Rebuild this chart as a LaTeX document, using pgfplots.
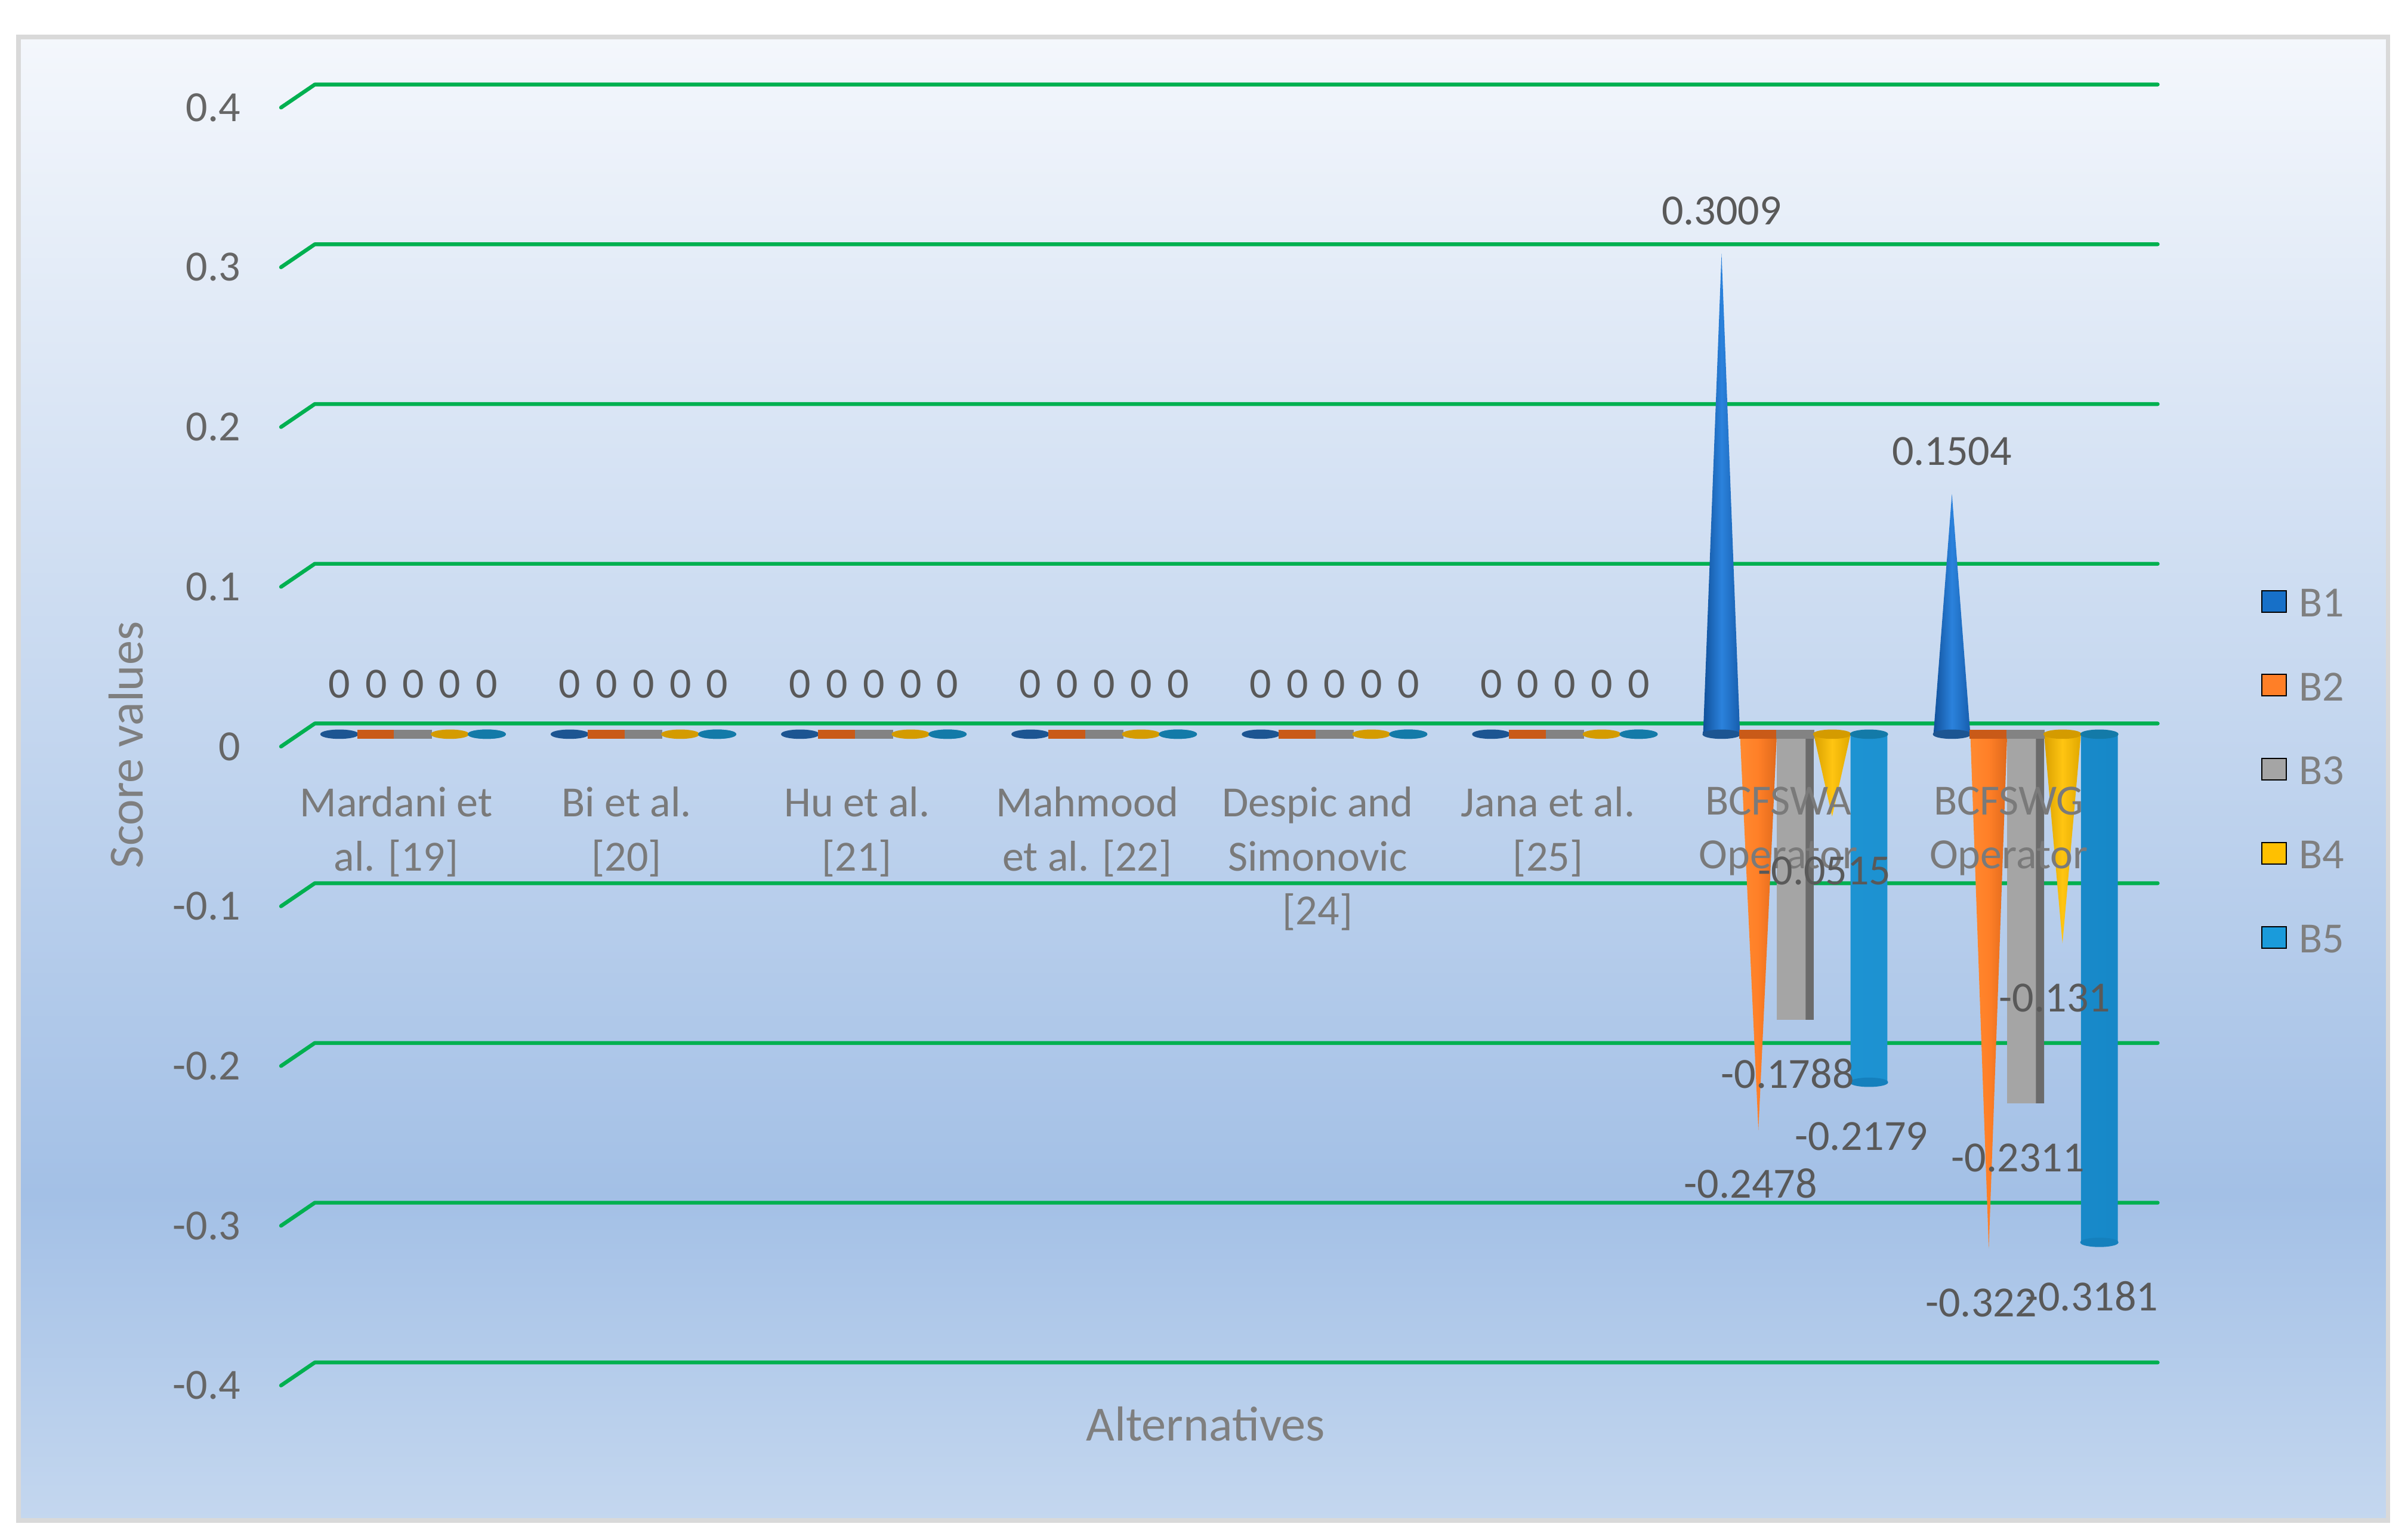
\documentclass[border=0pt]{standalone}
\usepackage{fontspec}
\setmainfont{Carlito}
\usepackage{pgfplots}
\pgfplotsset{compat=1.18}
\usepackage{pgfplotstable}

\definecolor{gridgreen}{HTML}{00B050}
\definecolor{framegray}{HTML}{D9D9D9}
\definecolor{bgtop}{HTML}{F4F7FC}
\definecolor{bgmid}{HTML}{A3C0E6}
\definecolor{bgbot}{HTML}{C4D7EF}
\definecolor{tickgray}{HTML}{666666}
\definecolor{catgray}{HTML}{7A7A7A}
\definecolor{titlegray}{HTML}{7F7F7F}
\definecolor{labgray}{HTML}{595959}
% series
\definecolor{bA}{HTML}{1770C8}
\definecolor{bAl}{HTML}{10509A}
\definecolor{bAm}{HTML}{2B82DC}
\definecolor{bAr}{HTML}{175EAE}
\definecolor{bAz}{HTML}{1C5592}
\definecolor{bB}{HTML}{FF7F27}
\definecolor{bBl}{HTML}{FF8A30}
\definecolor{bBr}{HTML}{E06A1C}
\definecolor{bBz}{HTML}{C95A18}
\definecolor{bC}{HTML}{A5A5A5}
\definecolor{bCs}{HTML}{6B6B6B}
\definecolor{bCz}{HTML}{838383}
\definecolor{bD}{HTML}{FFC000}
\definecolor{bDl}{HTML}{D9A000}
\definecolor{bDm}{HTML}{FFC512}
\definecolor{bDr}{HTML}{E0A800}
\definecolor{bDz}{HTML}{D49B00}
\definecolor{bE}{HTML}{1A9BDB}
\definecolor{bEl}{HTML}{0F74AC}
\definecolor{bEm}{HTML}{2BAAE8}
\definecolor{bEr}{HTML}{1788C8}
\definecolor{bEb}{HTML}{1580BD}
\definecolor{bEz}{HTML}{137AA8}

\pgfdeclareverticalshading{bgshade}{100bp}{color(0bp)=(bgbot); color(25bp)=(bgbot); color(36bp)=(bgmid); color(75bp)=(bgtop); color(100bp)=(bgtop)}

\newcommand{\fs}{\fontsize{14pt}{17.5pt}\selectfont}
\newcommand{\ts}{\fontsize{16pt}{19pt}\selectfont}

\pgfplotstableread{
x y lab
0 0 0
1 0 0
2 0 0
3 0 0
4 0 0
5 0 0
6 0.3009 0.3009
7 0.1504 0.1504
}\Bone
\pgfplotstableread{
x y lab
0 0 0
1 0 0
2 0 0
3 0 0
4 0 0
5 0 0
6 -0.2478 -0.2478
7 -0.322 -0.322
}\Btwo
\pgfplotstableread{
x y lab
0 0 0
1 0 0
2 0 0
3 0 0
4 0 0
5 0 0
6 -0.1788 -0.1788
7 -0.2311 -0.2311
}\Bthree
\pgfplotstableread{
x y lab
0 0 0
1 0 0
2 0 0
3 0 0
4 0 0
5 0 0
6 -0.0515 -0.0515
7 -0.131 -0.131
}\Bfour
\pgfplotstableread{
x y lab
0 0 0
1 0 0
2 0 0
3 0 0
4 0 0
5 0 0
6 -0.2179 -0.2179
7 -0.3181 -0.3181
}\Bfive

\newcommand{\gl}[2]{\draw[gridgreen, line width=1.25pt, line cap=round, line join=round] (axis cs:-0.5733,#1) -- (axis cs:-0.4267,#2) -- (axis cs:7.5733,#2);}

\pgfplotsset{
  lbl/.style={draw=none, mark=none, point meta=explicit symbolic, nodes near coords,
    visualization depends on={rawy \as \rawyval},
    every node near coord/.append style={anchor=south, font=\fs, text=labgray, inner sep=9pt, yshift={-31.5*(\rawyval<0)+2.5*(\rawyval==0)}, xshift={-2.5*(\rawyval<0)}}},
  flat/.style={forget plot, only marks, mark=#1, mark size=6pt, mark options={yscale=0.22}},
}

\begin{document}
\begin{tikzpicture}
\useasboundingbox (0,0) rectangle (784pt,500pt);
\fill[white] (0,0) rectangle (784pt,500pt);
\shade[shading=bgshade] (6pt,5pt) rectangle (777.5pt,488pt);
\draw[framegray, line width=1.5pt] (6pt,5pt) rectangle (777.5pt,488pt);
\begin{axis}[
  at={(89.5pt,42.6pt)}, anchor=south west,
  scale only axis, width=615pt, height=436.8pt,
  xmin=-0.6, xmax=7.6, ymin=-0.42, ymax=0.42,
  clip=false, axis on top,
  axis x line*=middle, axis y line*=left,
  axis line style={draw=none},
  major tick length=0pt,
  xtick={0,1,2,3,4,5,6,7},
  xticklabels={{Mardani et\\al. [19]},{Bi et al.\\{[20]}},{Hu et al.\\{[21]}},{Mahmood\\et al. [22]},{Despic and\\Simonovic\\{[24]}},{Jana et al.\\{[25]}},{BCFSWA\\Operator},{BCFSWG\\Operator}},
  xticklabel style={anchor=north, align=center, inner sep=0pt, yshift=-17pt, xshift=-5.5pt, font=\fs, text=catgray},
  ytick={-0.4,-0.3,-0.2,-0.1,0,0.1,0.2,0.3,0.4},
  yticklabels={-0.4,-0.3,-0.2,-0.1,0,0.1,0.2,0.3,0.4},
  yticklabel style={anchor=east, inner sep=0pt, xshift=-11pt, yshift=-4pt, font=\fs, text=tickgray},
  xlabel={Alternatives}, ylabel={Score values},
  every axis x label/.style={at={(axis description cs:0.4927,-0.014)}, anchor=center, font=\ts, text=titlegray},
  every axis y label/.style={at={(axis description cs:-0.0789,0.492)}, rotate=90, anchor=center, font=\ts, text=titlegray},
  legend style={at={(axis description cs:1.0512,0.611)}, anchor=north west, draw=none, fill=none, inner sep=0pt, row sep=17.35pt, column sep=4pt, font=\fs, text=titlegray, nodes={inner sep=0pt, text height=10pt, text depth=0pt}},
  legend cell align=left,
  legend image code/.code={\fill[#1] (0pt,-3.5pt) rectangle (8pt,3.5pt);},
]
% grid lines (back wall with floor edge)
\gl{0.3923}{0.4067}
\gl{0.2923}{0.3067}
\gl{0.1923}{0.2067}
\gl{0.0923}{0.1067}
\gl{-0.0077}{0.0067}
\gl{-0.1077}{-0.0933}
\gl{-0.2077}{-0.1933}
\gl{-0.3077}{-0.2933}
\gl{-0.4077}{-0.3933}

% ---- B1 cones
\addplot[flat=*, color=bAz] table[x expr=\coordindex-0.32, y expr=0] {\Bone};
\addplot[forget plot, draw=none, left color=bAl, right color=bAr, middle color=bAm] coordinates {(5.60,0) (5.68,0.3009) (5.76,0)} --cycle;
\addplot[forget plot, draw=none, left color=bAl, right color=bAr, middle color=bAm] coordinates {(6.60,0) (6.68,0.1504) (6.76,0)} --cycle;

% ---- B2 pyramids
\addplot[forget plot, draw=none, left color=bBl, right color=bBr, middle color=bB] coordinates {(5.76,0) (5.84,-0.2478) (5.92,0)} --cycle;
\addplot[forget plot, draw=none, left color=bBl, right color=bBr, middle color=bB] coordinates {(6.76,0) (6.84,-0.322) (6.92,0)} --cycle;
\addplot[flat=square*, color=bBz] table[x expr=\coordindex-0.16, y expr=0] {\Btwo};

% ---- B3 boxes
\addplot[forget plot, ybar, bar width=0.16, bar shift=0, draw=none, fill=bCs] table[x=x, y=y] {\Bthree};
\addplot[forget plot, ybar, bar width=0.125, bar shift=-0.0175, draw=none, fill=bC] table[x=x, y=y] {\Bthree};
\addplot[flat=square*, color=bCz] table[x expr=\coordindex, y expr=0] {\Bthree};

% ---- B4 cones
\addplot[forget plot, draw=none, left color=bDl, right color=bDr, middle color=bDm] coordinates {(6.08,0) (6.16,-0.0515) (6.24,0)} --cycle;
\addplot[forget plot, draw=none, left color=bDl, right color=bDr, middle color=bDm] coordinates {(7.08,0) (7.16,-0.131) (7.24,0)} --cycle;
\addplot[flat=*, color=bDz] table[x expr=\coordindex+0.16, y expr=0] {\Bfour};

% ---- B5 cylinders
\addplot[flat=*, color=bEb] table[x expr=\coordindex+0.32, y=y] {\Bfive};
\addplot[forget plot, ybar, bar width=0.16, bar shift=0.32, draw=none, left color=bEl, right color=bEr, middle color=bEm] table[x=x, y=y] {\Bfive};
\addplot[flat=*, color=bEz] table[x expr=\coordindex+0.32, y expr=0] {\Bfive};

% ---- data labels
\addplot[forget plot, lbl] table[x expr=\coordindex-0.32, y=y, meta=lab] {\Bone};
\addplot[forget plot, lbl] table[x expr=\coordindex-0.16, y=y, meta=lab] {\Btwo};
\addplot[forget plot, lbl] table[x expr=\coordindex, y=y, meta=lab] {\Bthree};
\addplot[forget plot, lbl] table[x expr=\coordindex+0.16, y=y, meta=lab] {\Bfour};
\addplot[forget plot, lbl] table[x expr=\coordindex+0.32, y=y, meta=lab] {\Bfive};

\addlegendimage{fill=bA}\addlegendentry{B1}
\addlegendimage{fill=bB}\addlegendentry{B2}
\addlegendimage{fill=bC}\addlegendentry{B3}
\addlegendimage{fill=bD}\addlegendentry{B4}
\addlegendimage{fill=bE}\addlegendentry{B5}
\end{axis}
\end{tikzpicture}
\end{document}
